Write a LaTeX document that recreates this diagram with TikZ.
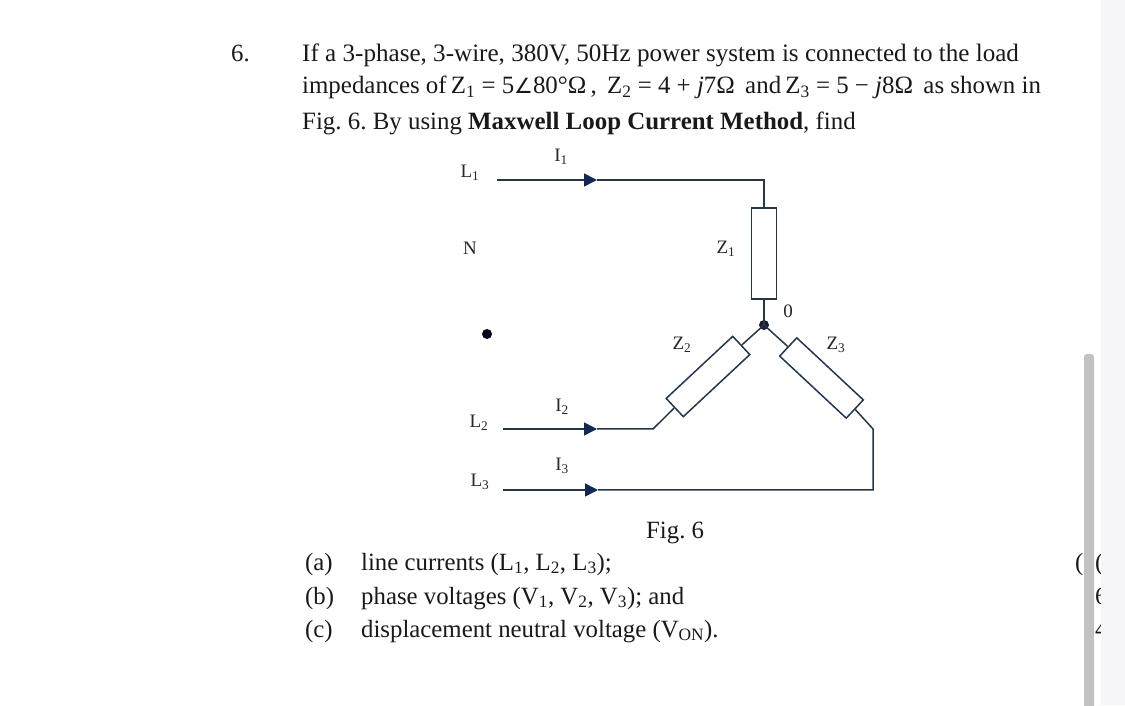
\documentclass[tikz,border=0pt]{standalone}
\usepackage{fontspec}
\setmainfont{Liberation Serif}
\newfontfamily\symfont{DejaVu Sans}
\usetikzlibrary{arrows.meta}
\definecolor{wirecol}{HTML}{26364A}
\definecolor{tipcol}{HTML}{10285A}
\definecolor{stripcol}{HTML}{F6F6F8}
\definecolor{barcol}{HTML}{C2C2C2}
\frenchspacing
\def\lsub#1{\textsubscript{#1}}
\def\ang{{\symfont\fontsize{21}{21}\selectfont\char"2220}}
\tikzset{
	wire/.style={line width=1.5pt, color=wirecol},
	arrowwire/.style={wire, -{Triangle[length=13pt,width=13pt,color=tipcol]}},
	load/.style={draw=wirecol, line width=1.5pt, fill=white, minimum width=91pt, minimum height=25pt, inner sep=0pt},
	dotnode/.style={circle, fill=#1, inner sep=0pt, minimum size=10pt},
	para/.style={anchor=base west, inner sep=0pt, font=\fontsize{24.8}{24.8}\selectfont, text=black!90},
	lab/.style={inner sep=0pt, font=\fontsize{19}{19}\selectfont, text=black!85}
}
\begin{document}
\begin{tikzpicture}[x=1pt, y=1pt]
			%%%%% START %%%%%
			\useasboundingbox (0, 0) rectangle (1125, 705);
			
			\node[para] (num) at (231, 643) {6.};
			\node[para, font=\fontsize{25.1}{25.1}\selectfont] (lineA) at (302, 643) {If a 3-phase, 3-wire, 380V, 50Hz power system is connected to the load};
			\node[para, font=\fontsize{24.9}{24.9}\selectfont] (lineB) at (302, 611) {impedances of\,Z\lsub{1} = 5\ang80°Ω\,, \,Z\lsub{2} = 4 + \textit{j}7Ω\, and\,Z\lsub{3} = 5 − \textit{j}8Ω\, as shown in};
			\node[para, font=\fontsize{24.9}{24.9}\selectfont] (lineC) at (302, 575) {Fig. 6. By using \textbf{Maxwell Loop Current Method}, find};
			
			\node[para] (figcap) at (646, 167) {Fig. 6};
			\node[para] (partA) at (305, 135) {(a)};
			\node[para] (textA) at (361, 135) {line currents (L\lsub{1}, L\lsub{2}, L\lsub{3});};
			\node[para] (partB) at (305, 101) {(b)};
			\node[para] (textB) at (361, 101) {phase voltages (V\lsub{1}, V\lsub{2}, V\lsub{3}); and};
			\node[para] (partC) at (305, 68) {(c)};
			\node[para] (textC) at (361, 68) {displacement neutral voltage (V\lsub{ON}).};
			
			\node[para] (cutA) at (1075, 135) {(};
			\node[para] (cutB) at (1095, 135) {(};
			\node[para] (cutC) at (1095, 101) {6};
			\node[para] (cutD) at (1095, 68) {4};
			
			\fill[stripcol] (1101, 0) rectangle (1125, 705);
			\fill[barcol, rounded corners=3pt] (1084, -6) rectangle (1094, 351);
			
			\node[lab] (labLa) at (470, 532) {L\lsub{1}};
			\node[lab] (labIa) at (561, 548) {I\lsub{1}};
			\node[lab] (labN) at (470, 457) {N};
			\node[lab] (labZa) at (726, 456) {Z\lsub{1}};
			\node[lab] (labO) at (788, 394) {0};
			\node[lab] (labZb) at (682, 360) {Z\lsub{2}};
			\node[lab] (labZc) at (836, 360) {Z\lsub{3}};
			\node[lab] (labLb) at (479, 282) {L\lsub{2}};
			\node[lab] (labIb) at (562, 298) {I\lsub{2}};
			\node[lab] (labIc) at (562, 239) {I\lsub{3}};
			\node[lab] (labLc) at (480, 223) {L\lsub{3}};
			
			\node[load] (Za) at (764, 451.5) [rotate=90] {};
			\node[load] (Zb) at (708, 328.5) [rotate=43] {};
			\node[load] (Zc) at (821.5, 327) [rotate=-43] {};
			\node[dotnode=wirecol!60!black] (star) at (764, 380) {};
			\node[dotnode=black!90!blue] (free) at (487, 371) {};
			
			\coordinate (startA) at (497, 525);
			\coordinate (tipA) at (597, 525);
			\coordinate (bendA) at (764, 525);
			\coordinate (startB) at (503, 276);
			\coordinate (tipB) at (597, 276);
			\coordinate (bendB) at (653, 276);
			\coordinate (startC) at (503, 215);
			\coordinate (tipC) at (598, 215);
			\coordinate (bendC) at (873, 215);
			\coordinate (bendD) at (873, 276);
			
			\draw[arrowwire] (startA) -- (tipA);
			\draw[wire] (tipA) -- (bendA) -- (Za.east);
			\draw[wire] (Za.west) -- (star.center);
			
			\draw[arrowwire] (startB) -- (tipB);
			\draw[wire] (tipB) -- (bendB) -- (Zb.west);
			\draw[wire] (Zb.east) -- (star.center);
			
			\draw[arrowwire] (startC) -- (tipC);
			\draw[wire] (tipC) -- (bendC) -- (bendD) -- (Zc.east);
			\draw[wire] (Zc.west) -- (star.center);
			
			%%%%% END %%%%%
		\end{tikzpicture}
\end{document}
